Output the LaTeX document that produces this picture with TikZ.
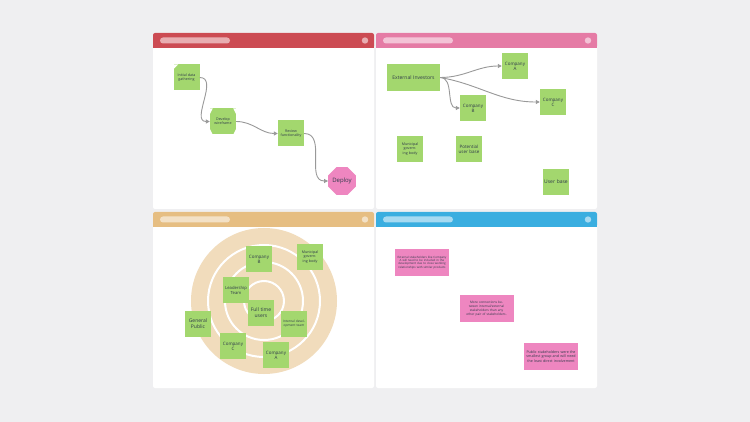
\documentclass[tikz,border=0pt]{standalone}
\usepackage{fontspec}
\setmainfont{Open Sans}
\usetikzlibrary{shapes.geometric,arrows.meta}
\definecolor{bg}{HTML}{EFEFF1}
\definecolor{gr}{HTML}{A3D76E}
\definecolor{pk}{HTML}{EE86C0}
\definecolor{hred}{HTML}{CC4B53}
\definecolor{hpink}{HTML}{E57BA5}
\definecolor{htan}{HTML}{E6BE82}
\definecolor{hblue}{HTML}{3AAEE0}
\definecolor{tan}{HTML}{F1DCBC}
\definecolor{tx}{HTML}{2F3A4A}
\tikzset{
 note/.style={fill=gr,minimum width=26pt,minimum height=26pt,inner sep=1pt,text width=24pt,align=center,font=\fontsize{3.6}{4.2}\selectfont,text=tx,drop shadow/.try},
 bignote/.style={note,font=\fontsize{5}{6}\selectfont},
 pnote/.style={fill=pk,minimum width=54pt,minimum height=27pt,text width=50pt,inner sep=1pt,align=center,font=\fontsize{2.9}{3.4}\selectfont,text=tx},
 conn/.style={draw=gray!80,line width=0.9pt,-{Triangle[length=4pt,width=4pt]}},
 panel/.style={fill=white,rounded corners=2pt},
}
\begin{document}
\begin{tikzpicture}[x=1pt,y=-1pt]
\fill[bg] (0,0) rectangle (750,422);
\useasboundingbox (0,0) rectangle (750,422);
% panels
\foreach \x/\y/\c in {153/33/hred,376/33/hpink,153/212/htan,376/212/hblue}{
 \fill[panel] (\x,\y) rectangle ++(221,176);
 \fill[\c,rounded corners=2pt] (\x,\y) rectangle ++(221,15);
 \fill[\c] (\x,\y+8) rectangle ++(221,7);
 \fill[white,opacity=0.55,rounded corners=3pt] (\x+7,\y+4.5) rectangle ++(70,6);
 \fill[white,opacity=0.55] (\x+212,\y+7.5) circle (3.2);
}
% TL
\node[note] (idg) at (186.5,77.5) {Initial data gathering};
\fill[white] (idg.north west) -- ++(5,0) -- ++(-5,5) -- cycle;
\node[note,minimum width=26pt] (dw) at (223,121.5) {Develop wireframe};
\fill[white] (dw.north west) -- ++(3,0) -- ++(-3,6) -- cycle;
\fill[white] (dw.north east) -- ++(-3,0) -- ++(3,6) -- cycle;
\fill[white] (dw.south west) -- ++(3,0) -- ++(-3,-6) -- cycle;
\fill[white] (dw.south east) -- ++(-3,0) -- ++(3,-6) -- cycle;
\node[note] (rf) at (291,133.5) {Review functionality};
\node[regular polygon,regular polygon sides=8,fill=pk,minimum size=29pt,inner sep=0pt,text=tx,font=\fontsize{6}{7}\selectfont] (dep) at (342,181) {Deploy};
\draw[conn] (idg.east) to[out=0,in=180,looseness=1.1] (dw.west);
\draw[conn] (dw.east) to[out=0,in=180] (rf.west);
\draw[conn] (rf.east) to[out=0,in=180,looseness=1.1] (dep.west);
% TR
\node[bignote,minimum width=53pt,text width=50pt,minimum height=27pt] (ei) at (413.5,77.5) {External Investors};
\node[note,font=\fontsize{4.5}{5.2}\selectfont] (ca) at (515,66) {Company A};
\node[note,font=\fontsize{4.5}{5.2}\selectfont] (cb) at (473,108) {Company B};
\node[note,font=\fontsize{4.5}{5.2}\selectfont] (cc) at (553,102) {Company C};
\node[note] (mg) at (410,149) {Municipal governing body};
\node[note,font=\fontsize{4.5}{5.2}\selectfont] (pu) at (469,149) {Potential user base};
\node[bignote] (ub) at (556,182) {User base};
\draw[conn] (ei.east) to[out=0,in=180] (ca.west);
\draw[conn] (ei.east) to[out=0,in=180] (cb.west);
\draw[conn] (ei.east) to[out=-10,in=180] (cc.west);
% BL
\fill[tan] (264,301) circle (73);
\foreach \r in {20,39,56} \draw[white,line width=2pt] (264,301) circle (\r);
\node[note,font=\fontsize{4.5}{5.2}\selectfont] at (259,259) {Company B};
\node[note] at (310,257) {Municipal governing body};
\node[note,font=\fontsize{4.2}{5}\selectfont] at (236,290) {Leadership Team};
\node[bignote] at (261,313) {Full time users};
\node[note,font=\fontsize{3.2}{3.8}\selectfont] at (294,324) {Internal development team};
\node[bignote] at (198,324) {General Public};
\node[note,font=\fontsize{4.5}{5.2}\selectfont] at (233,346) {Company C};
\node[note,font=\fontsize{4.5}{5.2}\selectfont] at (276,355) {Company A};
% BR
\node[pnote] at (422,262.5) {External stakeholders like Company A will need to be included in the development due to close working relationships with similar products};
\node[pnote,font=\fontsize{3.2}{3.8}\selectfont] at (486.5,308.5) {More connections between internal/external stakeholders than any other pair of stakeholders.};
\node[pnote,font=\fontsize{3.6}{4.2}\selectfont] at (551,356.5) {Public stakeholders were the smallest group and will need the least direct involvement};
\end{tikzpicture}
\end{document}
